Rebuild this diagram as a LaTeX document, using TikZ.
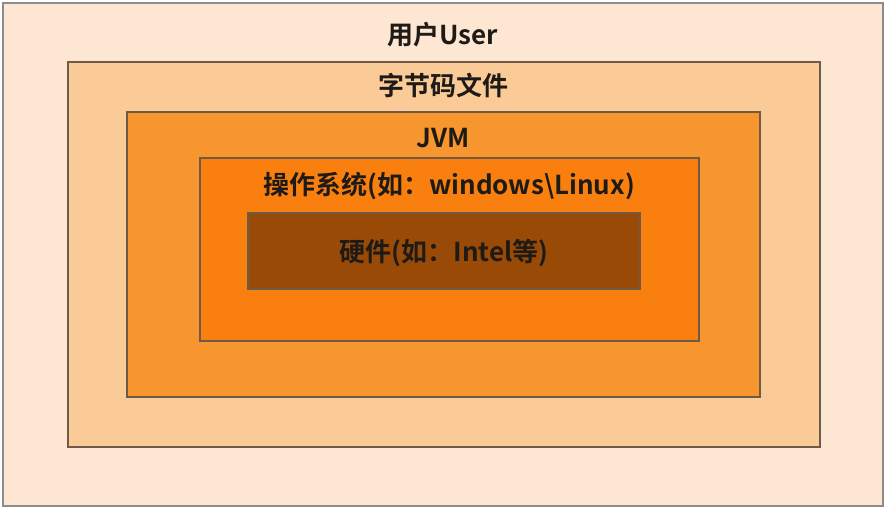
\documentclass[tikz,border=0pt]{standalone}
\usepackage{fontspec}
\setmainfont{Noto Sans CJK SC}[BoldFont={* Bold}]
\newfontfamily\cjkb{Noto Sans CJK SC Bold}
\definecolor{c1}{HTML}{FDE7D2}
\definecolor{c2}{HTML}{FBCB97}
\definecolor{c3}{HTML}{F7962F}
\definecolor{c4}{HTML}{F9800F}
\definecolor{c5}{HTML}{994A06}
\definecolor{bd}{HTML}{6E5A46}
\definecolor{tx}{HTML}{1E1A16}
\begin{document}
\begin{tikzpicture}[x=1pt,y=-1pt,
  layer/.style={draw=bd,line width=1.6pt,anchor=north west,inner sep=0pt,outer sep=0pt},
  lbl/.style={text=tx,font=\cjkb\fontsize{26}{30}\selectfont,inner sep=0pt}]
\useasboundingbox (0,0) rectangle (886,511);
\fill[white] (0,0) rectangle (886,511);
\node[layer,draw=gray!90,fill=c1,minimum width=880pt,minimum height=503pt] (user) at (3,3) {};
\node[layer,fill=c2,minimum width=752pt,minimum height=385pt] (byte) at (68,62) {};
\node[layer,fill=c3,minimum width=633pt,minimum height=285pt] (jvm) at (127,112) {};
\node[layer,fill=c4,minimum width=499pt,minimum height=183pt] (os) at (200,158) {};
\node[layer,fill=c5,minimum width=392pt,minimum height=76pt] (hw) at (248,213) {};
\node[lbl] (tuser) at (443,35) {用户User};
\node[lbl] (tbyte) at (443,85) {字节码文件};
\node[lbl] (tjvm) at (443,138) {JVM};
\node[lbl] (tos) at (449,186) {操作系统(如：windows\textbackslash Linux)};
\node[lbl] (thw) at (444,253) {硬件(如：Intel等)};
\end{tikzpicture}
\end{document}
